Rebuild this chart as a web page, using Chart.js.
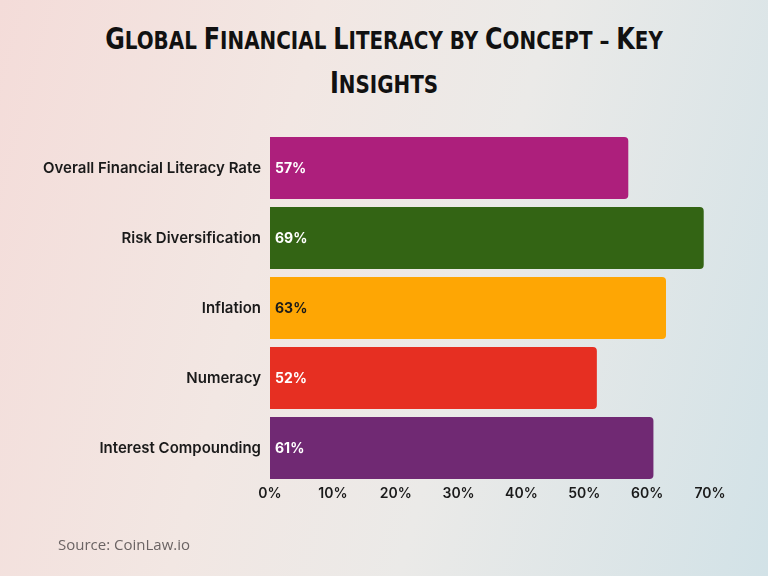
<!DOCTYPE html>
<html>
<head>
<meta charset="utf-8">
<script src="https://cdn.jsdelivr.net/npm/chart.js@4"></script>
<style>
  html, body { margin: 0; padding: 0; }
  body {
    width: 768px; height: 576px; overflow: hidden; position: relative;
    background: linear-gradient(105deg, #f4dcd9 0%, #f2e7e3 35%, #ebeae8 60%, #d2e2e7 100%);
  }
  #titulo {
    position: absolute; left: 0; top: 18px; width: 768px;
    margin: 0; text-align: center; text-transform: uppercase;
    font-family: "DejaVu Sans Condensed", sans-serif;
    font-weight: bold; font-size: 25px; line-height: 42px;
    color: #111;
    transform: scaleX(0.885); transform-origin: 384px 0;
  }
  #titulo span { font-size: 30px; }
  #fonte {
    position: absolute; left: 58px; top: 534px;
    font-family: "Open Sans", sans-serif; font-size: 15px; color: #6b6464;
  }
  #grafico { position: absolute; left: 0; top: 0; }
</style>
</head>
<body>
<h1 id="titulo"><span>G</span>lobal <span>F</span>inancial <span>L</span>iteracy by <span>C</span>oncept – <span>K</span>ey<br><span>I</span>nsights</h1>
<canvas id="grafico" width="768" height="576"></canvas>
<div id="fonte">Source: CoinLaw.io</div>
<script>
// Dados do grafico
const conceitos = ["Overall Financial Literacy Rate", "Risk Diversification", "Inflation", "Numeracy", "Interest Compounding"];
const percentuais = [57, 69, 63, 52, 61];
const coresBarras = ["#ad1f7c", "#336414", "#fea604", "#e62f22", "#702973"];
const coresTexto = ["#ffffff", "#ffffff", "#1a1a1a", "#ffffff", "#ffffff"];
const ticksEixo = [0, 10, 20, 30, 40, 50, 60, 70];

// Plugin que escreve o valor dentro da barra
const rotuloBarras = {
    id: 'rotuloBarras',
    afterDatasetsDraw(chart) {
        const ctx = chart.ctx;
        const meta = chart.getDatasetMeta(0);
        ctx.save();
        ctx.font = "bold 14px Inter, sans-serif";
        ctx.textBaseline = "middle";
        ctx.textAlign = "left";
        meta.data.forEach((barra, i) => {
            ctx.fillStyle = coresTexto[i];
            ctx.fillText(percentuais[i] + "%", barra.base + 5, barra.y + 1);
        });
        ctx.restore();
    }
};

const grafico = new Chart(document.querySelector("#grafico"), {
    type: 'bar',
    data: {
        labels: conceitos,
        datasets: [{
            data: percentuais,
            backgroundColor: coresBarras,
            borderRadius: 4,
            borderSkipped: 'start',
            categoryPercentage: 1,
            barPercentage: 0.886
        }]
    },
    options: {
        indexAxis: 'y',
        responsive: false,
        animation: false,
        layout: { padding: { top: 133, right: 58, left: 0, bottom: 0 } },
        plugins: { legend: { display: false }, tooltip: { enabled: false } },
        scales: {
            x: {
                min: 0, max: 70,
                afterFit: (s) => { s.height = 93; },
                afterBuildTicks: (s) => { s.ticks = ticksEixo.map(v => ({ value: v })); },
                grid: { display: false, drawTicks: false },
                border: { display: false },
                ticks: {
                    padding: 2,
                    color: "#1a1a1a",
                    font: { family: "Inter", size: 14, weight: '600' },
                    callback: (v) => v + "%"
                }
            },
            y: {
                afterFit: (s) => { s.width = 270; },
                grid: { display: false, drawTicks: false },
                border: { display: false },
                ticks: {
                    padding: 9,
                    color: "#1a1a1a",
                    font: { family: "Inter", size: 15, weight: '600' }
                }
            }
        }
    },
    plugins: [rotuloBarras]
});
</script>
</body>
</html>
